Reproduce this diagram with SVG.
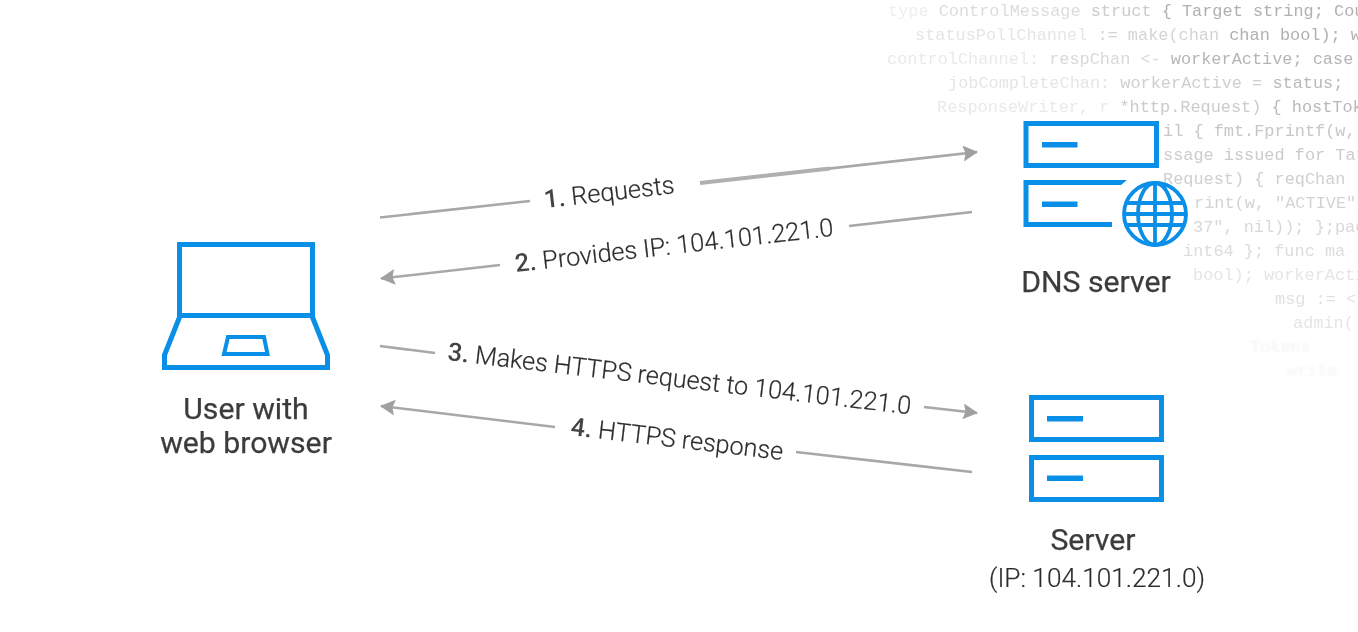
<svg xmlns="http://www.w3.org/2000/svg" width="1358" height="632" viewBox="0 0 1358 632">
<style>
.code{font-family:"Liberation Mono","DejaVu Sans Mono",monospace;font-size:16.9px;fill:#a8a8a8}
.ic{fill:none;stroke:#0a8fe8;stroke-width:5}
.dash{fill:#0a8fe8}
.lbl{font-family:Roboto,"Liberation Sans",sans-serif;font-size:25.2px;font-weight:300;fill:#2c2c2c;stroke:#2c2c2c;stroke-width:.2}
.lbl .n{font-weight:500;fill:#444;stroke:none}
.name{font-family:Roboto,"Liberation Sans",sans-serif;font-size:30.2px;fill:#3c3c3c;stroke:#3c3c3c;stroke-width:.25;text-anchor:middle}
.sub{font-family:Roboto,"Liberation Sans",sans-serif;font-size:26.2px;font-weight:300;fill:#2c2c2c;stroke:#2c2c2c;stroke-width:.2;text-anchor:middle}
.ln{fill:none;stroke:#a8a8a8;stroke-width:2.6}
</style>
<defs>
<filter id="soft" x="-5%" y="-5%" width="110%" height="110%"><feGaussianBlur stdDeviation="0.45"/></filter>
<filter id="soft2" x="-5%" y="-20%" width="110%" height="140%"><feGaussianBlur stdDeviation="1"/></filter>
<marker id="ah" markerUnits="userSpaceOnUse" markerWidth="18" markerHeight="18" refX="14" refY="8" orient="auto"><path d="M0 0L15 8L0 16L2.5 8Z" fill="#a0a0a0"/></marker>
</defs>
<rect width="1358" height="632" fill="#fff"/>
<g id="code-background">
<g filter="url(#soft)">
<text class="code" x="888" y="16"><tspan opacity=".2">type </tspan><tspan opacity=".4">ControlMessage </tspan><tspan opacity=".6">struct </tspan><tspan opacity=".9">{ Target string; Cou</tspan></text>
<text class="code" x="915" y="40"><tspan opacity=".3">statusPollChannel </tspan><tspan opacity=".5">:= make(chan </tspan><tspan opacity=".9">chan bool); w</tspan></text>
<text class="code" x="887" y="64"><tspan opacity=".25">controlChannel: </tspan><tspan opacity=".45">respChan &lt;- </tspan><tspan opacity=".85">workerActive; case</tspan></text>
<text class="code" x="948" y="88"><tspan opacity=".3">jobCompleteChan: </tspan><tspan opacity=".55">workerActive = </tspan><tspan opacity=".8">status;</tspan></text>
<text class="code" x="937" y="112"><tspan opacity=".25">ResponseWriter, r </tspan><tspan opacity=".6">*http.Request) </tspan><tspan opacity=".8">{ hostTok</tspan></text>
<text class="code" x="1163" y="136" opacity=".65">il { fmt.Fprintf(w,</text>
<text class="code" x="1163" y="160" opacity=".6">ssage issued for Tar</text>
<text class="code" x="1163" y="184" opacity=".55">Request) { reqChan</text>
<text class="code" x="1194" y="208" opacity=".5">rint(w, "ACTIVE"</text>
<text class="code" x="1193" y="232" opacity=".45">37", nil)); };pac</text>
<text class="code" x="1183" y="256" opacity=".4">int64 }; func ma</text>
<text class="code" x="1193" y="280" opacity=".3">bool); workerActi</text>
<text class="code" x="1275" y="304" opacity=".35">msg := &lt;-</text>
<text class="code" x="1293" y="328" opacity=".3">admin(</text>
</g>
<g filter="url(#soft2)">
<text class="code" x="1250" y="352" opacity=".15">Tokens</text>
<text class="code" x="1287" y="376" opacity=".12">write</text>
</g>
</g>
<g id="connectors">
<path class="ln" d="M380 217.500L530 201"/>
<path class="ln" d="M700 183L977 152" marker-end="url(#ah)"/>
<path fill="none" stroke="#b0b0b0" stroke-width="4" d="M700 183L830 168.400"/>
<path class="ln" d="M972 212L849 226"/>
<path class="ln" d="M500 265L381 278.500" marker-end="url(#ah)"/>
<path class="ln" d="M380 346L435 353"/>
<path class="ln" d="M924 407L977 413" marker-end="url(#ah)"/>
<path class="ln" d="M555 427L381 406" marker-end="url(#ah)"/>
<path class="ln" d="M796 452L972 472"/>
</g>
<g id="label-1"><text class="lbl" transform="translate(545 208) rotate(-6.500)"><tspan class="n">1.</tspan> Requests</text></g>
<g id="label-2"><text class="lbl" transform="translate(516 272) rotate(-6.500)"><tspan class="n">2.</tspan> Provides IP: 104.101.221.0</text></g>
<g id="label-3"><text class="lbl" transform="translate(447 360) rotate(6.700)"><tspan class="n">3.</tspan> Makes HTTPS request to 104.101.221.0</text></g>
<g id="label-4"><text class="lbl" transform="translate(570 435) rotate(6.700)"><tspan class="n">4.</tspan> HTTPS response</text></g>
<g id="user">
<rect class="ic" x="179.500" y="244.500" width="133" height="71"/>
<path class="ic" d="M180 316L164.500 355V367.500H327.500V355L312 316"/>
<path fill="none" stroke="#0a8fe8" stroke-width="4" d="M228 337H264L267.500 354H224Z"/>
<text class="name" x="246" y="419">User with</text>
<text class="name" x="246" y="453">web browser</text>
</g>
<g id="dns-server">
<rect class="ic" x="1026" y="123.500" width="130.500" height="42"/>
<rect class="dash" x="1042" y="142" width="35.500" height="5.500"/>
<path class="dash" d="M1023.500 180H1127L1121 185H1028.500V222H1112V227H1023.500Z"/>
<rect class="dash" x="1042" y="201.500" width="35.500" height="5.500"/>
<g fill="#fff" stroke="#0a8fe8" stroke-width="3.800">
<circle cx="1155" cy="214" r="31"/>
<ellipse cx="1155" cy="214" rx="17" ry="31" fill="none"/>
<path fill="none" d="M1155 183V245M1124 214H1186M1126 203H1184M1126 225H1184"/>
</g>
<text class="name" x="1096" y="292">DNS server</text>
</g>
<g id="server">
<rect class="ic" x="1031.500" y="397.500" width="130" height="42"/>
<rect class="dash" x="1047" y="416" width="36" height="5.500"/>
<rect class="ic" x="1031.500" y="457.500" width="130" height="42"/>
<rect class="dash" x="1047" y="475.500" width="36" height="5.500"/>
<text class="name" x="1093" y="550">Server</text>
<text class="sub" x="1097" y="587">(IP: 104.101.221.0)</text>
</g>
</svg>
